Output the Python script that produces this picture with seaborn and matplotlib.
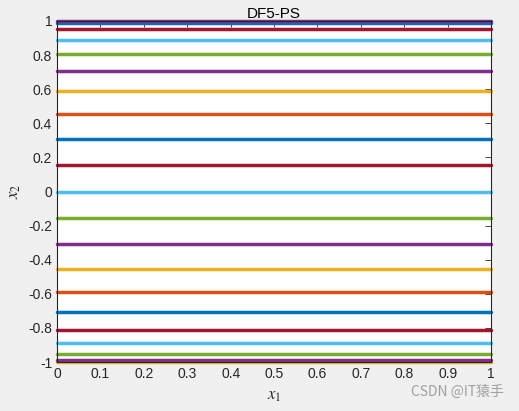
import numpy as np
import matplotlib
matplotlib.use('Agg')
import matplotlib.pyplot as plt
import seaborn as sns

# Line levels (bottom to top)
levels = [-1.0, -0.988, -0.951, -0.891, -0.809, -0.707, -0.588, -0.454, -0.309, -0.156,
          0.0, 0.156, 0.309, 0.454, 0.588, 0.707, 0.809, 0.891, 0.951, 0.988, 1.0]
x_range = [0.0, 1.0]

# MATLAB default colour order
matlab_colors = ['#0072BD', '#D95319', '#EDB120', '#7E2F8E', '#77AC30', '#4DBEEE', '#A2142F']
line_colors = [matlab_colors[(i + 2) % 7] for i in range(len(levels))]
line_colors[-1] = '#7E2F8E'

x_ticks = [0, 0.1, 0.2, 0.3, 0.4, 0.5, 0.6, 0.7, 0.8, 0.9, 1]
x_ticklabels = ['0', '0.1', '0.2', '0.3', '0.4', '0.5', '0.6', '0.7', '0.8', '0.9', '1']
y_ticks = [-1, -0.8, -0.6, -0.4, -0.2, 0, 0.2, 0.4, 0.6, 0.8, 1]
y_ticklabels = ['-1', '-0.8', '-0.6', '-0.4', '-0.2', '0', '0.2', '0.4', '0.6', '0.8', '1']

sns.set_style('white')
plt.rcParams['font.family'] = ['Arial', 'Liberation Sans', 'DejaVu Sans']
plt.rcParams['mathtext.fontset'] = 'stix'

fig = plt.figure(figsize=(5.19, 4.11), dpi=100, facecolor='#F0F0F0')
ax = fig.add_axes([0.110, 0.119, 0.836, 0.830])
ax.set_facecolor('white')

for y, c in zip(levels, line_colors):
    sns.lineplot(x=x_range, y=[y, y], color=c, linewidth=2.5, ax=ax, clip_on=False)

ax.set_xlim(0, 1)
ax.set_ylim(-1, 1)
ax.set_xticks(x_ticks)
ax.set_xticklabels(x_ticklabels)
ax.set_yticks(y_ticks)
ax.set_yticklabels(y_ticklabels)
ax.tick_params(direction='in', length=4, width=0.6, colors='#262626', labelsize=10,
               top=True, right=True, labelcolor='#262626')
for s in ax.spines.values():
    s.set_color('#262626')
    s.set_linewidth(0.8)

ax.set_title('DF5-PS', fontsize=11, color='black', pad=2)
ax.set_xlabel('$x_1$', fontsize=12, labelpad=6)
ax.set_ylabel('$x_2$', fontsize=12, labelpad=4)

fig.text(0.97, 0.03, 'CSDN @IT猿手', ha='right', va='bottom', fontsize=10, color='#A0A0A0',
         family=['Noto Sans CJK SC', 'DejaVu Sans'])

plt.savefig('out.png', dpi=100, facecolor=fig.get_facecolor())
